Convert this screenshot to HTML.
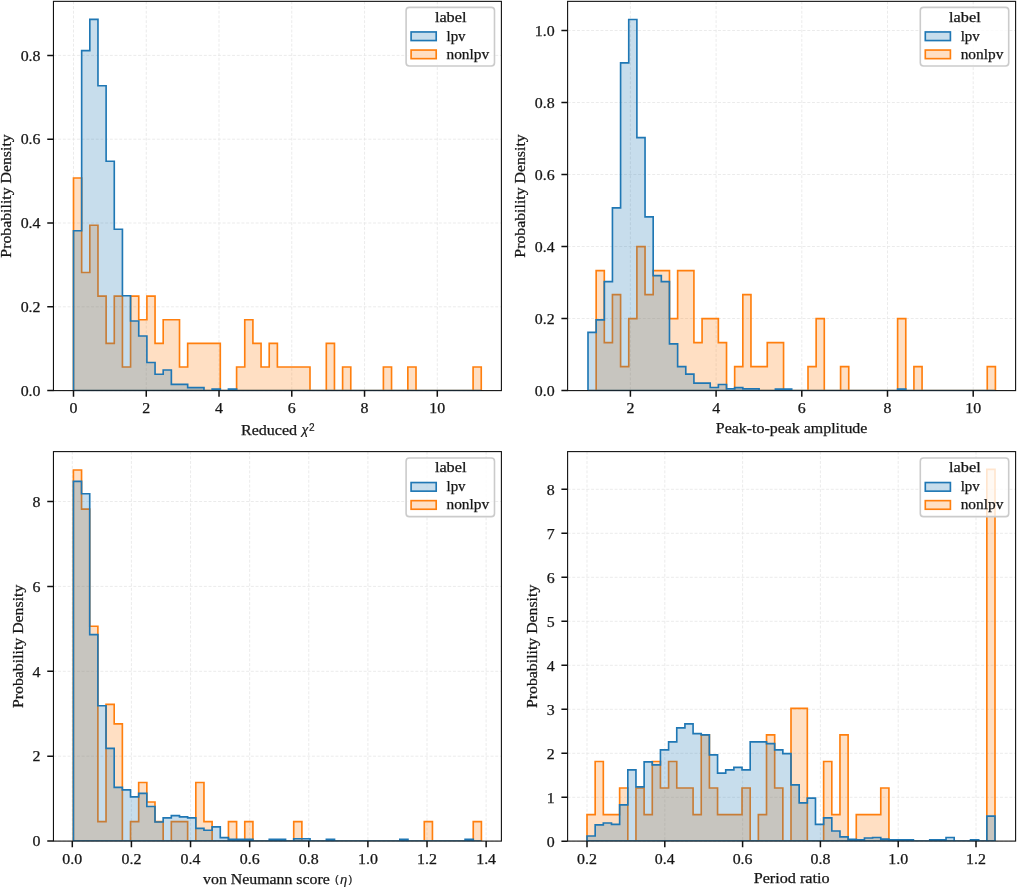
<!DOCTYPE html>
<html><head><meta charset="utf-8"><style>
html,body{margin:0;padding:0;background:#fff;}
svg{display:block;will-change:transform;}
.tk{font-family:"Liberation Serif", serif;font-size:13.7px;fill:#161616;stroke:#161616;stroke-width:0.25px;}
.lb{font-family:"Liberation Serif", serif;font-size:13.7px;fill:#161616;stroke:#161616;stroke-width:0.25px;}
</style></head><body>
<svg width="1017" height="887" viewBox="0 0 1017 887">
<rect width="1017" height="887" fill="#fff"/>
<clipPath id="c0"><rect x="53.45" y="1.35" width="447.95" height="389.25"/></clipPath>
<path d="M73.5 1.35V390.6 M146.26 1.35V390.6 M219.02 1.35V390.6 M291.78 1.35V390.6 M364.54 1.35V390.6 M437.3 1.35V390.6 M53.45 390.6H501.4 M53.45 306.8H501.4 M53.45 223H501.4 M53.45 139.2H501.4 M53.45 55.4H501.4" stroke="#e6e6e6" stroke-width="0.8" stroke-dasharray="2.95 1.75" fill="none"/>
<g clip-path="url(#c0)">
<path d="M73.5 390.6 L73.5 178.02 L81.66 178.02 L81.66 272.5 L89.81 272.5 L89.81 225.26 L97.97 225.26 L97.97 296.12 L106.12 296.12 L106.12 343.36 L114.28 343.36 L114.28 296.12 L122.43 296.12 L122.43 366.98 L130.58 366.98 L130.58 296.12 L138.74 296.12 L138.74 319.74 L146.89 319.74 L146.89 296.12 L155.05 296.12 L155.05 343.36 L163.2 343.36 L163.2 319.74 L171.36 319.74 L179.51 319.74 L179.51 366.98 L187.67 366.98 L187.67 343.36 L195.82 343.36 L203.98 343.36 L212.13 343.36 L220.29 343.36 L220.29 390.6 L228.44 390.6 L236.6 390.6 L236.6 366.98 L244.75 366.98 L244.75 319.74 L252.91 319.74 L252.91 343.36 L261.06 343.36 L261.06 366.98 L269.22 366.98 L269.22 343.36 L277.38 343.36 L277.38 366.98 L285.53 366.98 L293.68 366.98 L301.84 366.98 L310 366.98 L310 390.6 L318.15 390.6 L326.3 390.6 L326.3 343.36 L334.46 343.36 L334.46 390.6 L342.61 390.6 L342.61 366.98 L350.77 366.98 L350.77 390.6 L358.92 390.6 L367.08 390.6 L375.23 390.6 L383.39 390.6 L383.39 366.98 L391.54 366.98 L391.54 390.6 L399.7 390.6 L407.85 390.6 L407.85 366.98 L416.01 366.98 L416.01 390.6 L424.16 390.6 L432.32 390.6 L440.47 390.6 L448.63 390.6 L456.78 390.6 L464.94 390.6 L473.09 390.6 L473.09 366.98 L481.25 366.98 L481.25 390.6 Z" fill="#ff7f0e" fill-opacity="0.25" stroke="#ff7f0e" stroke-width="1.65" stroke-linejoin="miter"/>
<path d="M73.5 390.6 L73.5 230.75 L81.66 230.75 L81.66 50.6 L89.81 50.6 L89.81 19.4 L97.97 19.4 L97.97 85.7 L106.12 85.7 L106.12 161.2 L114.28 161.2 L114.28 229.25 L122.43 229.25 L122.43 295.75 L130.58 295.75 L130.58 321 L138.74 321 L138.74 336 L146.89 336 L146.89 362.5 L155.05 362.5 L155.05 374.25 L163.2 374.25 L163.2 370 L171.36 370 L171.36 384.4 L179.51 384.4 L187.67 384.4 L187.67 387.6 L195.82 387.6 L203.98 387.6 L203.98 390.6 L212.13 390.6 L212.13 389 L220.29 389 L220.29 390.6 L228.44 390.6 L228.44 389 L236.6 389 L236.6 390.6 L244.75 390.6 L252.91 390.6 L261.06 390.6 L269.22 390.6 L277.38 390.6 L285.53 390.6 L293.68 390.6 L301.84 390.6 L310 390.6 L318.15 390.6 L326.3 390.6 L334.46 390.6 L342.61 390.6 L350.77 390.6 L358.92 390.6 L367.08 390.6 L375.23 390.6 L383.39 390.6 L391.54 390.6 L399.7 390.6 L407.85 390.6 L416.01 390.6 L424.16 390.6 L432.32 390.6 L440.47 390.6 L448.63 390.6 L456.78 390.6 L464.94 390.6 L473.09 390.6 L481.25 390.6 Z" fill="#1f77b4" fill-opacity="0.25" stroke="#1f77b4" stroke-width="1.65" stroke-linejoin="miter"/>
</g>
<rect x="53.45" y="1.35" width="447.95" height="389.25" fill="none" stroke="#111" stroke-width="1.1"/>
<path d="M73.5 390.6H481.25" stroke="#1f77b4" stroke-width="1.1" stroke-opacity="0.16" fill="none"/>
<path d="M73.5 390.6V396.8 M146.26 390.6V396.8 M219.02 390.6V396.8 M291.78 390.6V396.8 M364.54 390.6V396.8 M437.3 390.6V396.8 M53.45 390.6H47.25 M53.45 306.8H47.25 M53.45 223H47.25 M53.45 139.2H47.25 M53.45 55.4H47.25" stroke="#111" stroke-width="1.5" fill="none"/>
<text x="73.5" y="413.2" text-anchor="middle" class="tk" textLength="7.95" lengthAdjust="spacingAndGlyphs">0</text>
<text x="146.26" y="413.2" text-anchor="middle" class="tk" textLength="7.95" lengthAdjust="spacingAndGlyphs">2</text>
<text x="219.02" y="413.2" text-anchor="middle" class="tk" textLength="7.95" lengthAdjust="spacingAndGlyphs">4</text>
<text x="291.78" y="413.2" text-anchor="middle" class="tk" textLength="7.95" lengthAdjust="spacingAndGlyphs">6</text>
<text x="364.54" y="413.2" text-anchor="middle" class="tk" textLength="7.95" lengthAdjust="spacingAndGlyphs">8</text>
<text x="437.3" y="413.2" text-anchor="middle" class="tk" textLength="15.91" lengthAdjust="spacingAndGlyphs">10</text>
<text x="40.55" y="395.8" text-anchor="end" class="tk" textLength="19.88" lengthAdjust="spacingAndGlyphs">0.0</text>
<text x="40.55" y="312" text-anchor="end" class="tk" textLength="19.88" lengthAdjust="spacingAndGlyphs">0.2</text>
<text x="40.55" y="228.2" text-anchor="end" class="tk" textLength="19.88" lengthAdjust="spacingAndGlyphs">0.4</text>
<text x="40.55" y="144.4" text-anchor="end" class="tk" textLength="19.88" lengthAdjust="spacingAndGlyphs">0.6</text>
<text x="40.55" y="60.6" text-anchor="end" class="tk" textLength="19.88" lengthAdjust="spacingAndGlyphs">0.8</text>
<text x="10.55" y="195.98" text-anchor="middle" class="lb" textLength="123.33" lengthAdjust="spacingAndGlyphs" transform="rotate(-90 10.55 195.98)">Probability Density</text>
<text x="241" y="434.8" class="lb" textLength="56.15" lengthAdjust="spacingAndGlyphs">Reduced</text>
<text x="301.4" y="434.4" style="font-family:'Liberation Sans',sans-serif;font-style:italic;font-size:12.6px;fill:#161616;stroke:#161616;stroke-width:0.2px">χ</text>
<text x="308.9" y="430.5" style="font-family:'Liberation Sans',sans-serif;font-size:10.1px;fill:#161616;stroke:#161616;stroke-width:0.15px">2</text>
<rect x="406.1" y="7.4" width="88.4" height="58.6" rx="3.2" fill="#fff" fill-opacity="0.8" stroke="#cbcbcb" stroke-width="1.6"/>
<text x="450.7" y="21.7" text-anchor="middle" class="tk" textLength="31.59" lengthAdjust="spacingAndGlyphs">label</text>
<rect x="411.1" y="31.95" width="25.1" height="8.6" fill="#1f77b4" fill-opacity="0.25" stroke="#1f77b4" stroke-width="1.65"/>
<text x="446.5" y="40.6" class="tk" textLength="19.06" lengthAdjust="spacingAndGlyphs">lpv</text>
<rect x="411.1" y="50.05" width="25.1" height="8.6" fill="#ff7f0e" fill-opacity="0.25" stroke="#ff7f0e" stroke-width="1.65"/>
<text x="446.5" y="58.7" class="tk" textLength="42.69" lengthAdjust="spacingAndGlyphs">nonlpv</text>
<clipPath id="c1"><rect x="567.6" y="1.35" width="448" height="389.25"/></clipPath>
<path d="M630.4 1.35V390.6 M716.1 1.35V390.6 M801.8 1.35V390.6 M887.5 1.35V390.6 M973.2 1.35V390.6 M567.6 390.5H1015.6 M567.6 318.5H1015.6 M567.6 246.5H1015.6 M567.6 174.5H1015.6 M567.6 102.5H1015.6 M567.6 30.5H1015.6" stroke="#e6e6e6" stroke-width="0.8" stroke-dasharray="2.95 1.75" fill="none"/>
<g clip-path="url(#c1)">
<path d="M588 390.6 L596.15 390.6 L596.15 270.6 L604.3 270.6 L604.3 342.6 L612.44 342.6 L612.44 294.6 L620.59 294.6 L620.59 366.6 L628.74 366.6 L628.74 318.6 L636.89 318.6 L636.89 246.6 L645.04 246.6 L645.04 294.6 L653.18 294.6 L653.18 270.6 L661.33 270.6 L669.48 270.6 L669.48 318.6 L677.63 318.6 L677.63 270.6 L685.78 270.6 L693.92 270.6 L693.92 342.6 L702.07 342.6 L702.07 318.6 L710.22 318.6 L718.37 318.6 L718.37 342.6 L726.52 342.6 L726.52 390.6 L734.66 390.6 L734.66 366.6 L742.81 366.6 L742.81 294.6 L750.96 294.6 L750.96 366.6 L759.11 366.6 L767.26 366.6 L767.26 342.6 L775.4 342.6 L783.55 342.6 L783.55 390.6 L791.7 390.6 L799.85 390.6 L808 390.6 L808 366.6 L816.14 366.6 L816.14 318.6 L824.29 318.6 L824.29 390.6 L832.44 390.6 L840.59 390.6 L840.59 366.6 L848.74 366.6 L848.74 390.6 L856.88 390.6 L865.03 390.6 L873.18 390.6 L881.33 390.6 L889.48 390.6 L897.62 390.6 L897.62 318.6 L905.77 318.6 L905.77 390.6 L913.92 390.6 L913.92 366.6 L922.07 366.6 L922.07 390.6 L930.22 390.6 L938.36 390.6 L946.51 390.6 L954.66 390.6 L962.81 390.6 L970.96 390.6 L979.1 390.6 L987.25 390.6 L987.25 366.6 L995.4 366.6 L995.4 390.6 Z" fill="#ff7f0e" fill-opacity="0.25" stroke="#ff7f0e" stroke-width="1.65" stroke-linejoin="miter"/>
<path d="M588 390.6 L588 332.3 L596.15 332.3 L596.15 319.9 L604.3 319.9 L604.3 281.6 L612.44 281.6 L612.44 207.9 L620.59 207.9 L620.59 62.9 L628.74 62.9 L628.74 19.5 L636.89 19.5 L636.89 137.6 L645.04 137.6 L645.04 216.8 L653.18 216.8 L653.18 275.6 L661.33 275.6 L661.33 281.6 L669.48 281.6 L669.48 343.9 L677.63 343.9 L677.63 366.6 L685.78 366.6 L685.78 374.1 L693.92 374.1 L693.92 383.1 L702.07 383.1 L710.22 383.1 L710.22 387.5 L718.37 387.5 L718.37 384.5 L726.52 384.5 L726.52 388.7 L734.66 388.7 L734.66 387.6 L742.81 387.6 L742.81 388.7 L750.96 388.7 L759.11 388.7 L759.11 390.6 L767.26 390.6 L775.4 390.6 L775.4 389 L783.55 389 L791.7 389 L791.7 390.6 L799.85 390.6 L808 390.6 L816.14 390.6 L824.29 390.6 L832.44 390.6 L840.59 390.6 L848.74 390.6 L856.88 390.6 L865.03 390.6 L873.18 390.6 L881.33 390.6 L889.48 390.6 L897.62 390.6 L897.62 389 L905.77 389 L905.77 390.6 L913.92 390.6 L922.07 390.6 L930.22 390.6 L938.36 390.6 L946.51 390.6 L954.66 390.6 L962.81 390.6 L970.96 390.6 L979.1 390.6 L987.25 390.6 L995.4 390.6 Z" fill="#1f77b4" fill-opacity="0.25" stroke="#1f77b4" stroke-width="1.65" stroke-linejoin="miter"/>
</g>
<rect x="567.6" y="1.35" width="448" height="389.25" fill="none" stroke="#111" stroke-width="1.1"/>
<path d="M588 390.6H995.4" stroke="#1f77b4" stroke-width="1.1" stroke-opacity="0.16" fill="none"/>
<path d="M630.4 390.6V396.8 M716.1 390.6V396.8 M801.8 390.6V396.8 M887.5 390.6V396.8 M973.2 390.6V396.8 M567.6 390.5H561.4 M567.6 318.5H561.4 M567.6 246.5H561.4 M567.6 174.5H561.4 M567.6 102.5H561.4 M567.6 30.5H561.4" stroke="#111" stroke-width="1.5" fill="none"/>
<text x="630.4" y="413.2" text-anchor="middle" class="tk" textLength="7.95" lengthAdjust="spacingAndGlyphs">2</text>
<text x="716.1" y="413.2" text-anchor="middle" class="tk" textLength="7.95" lengthAdjust="spacingAndGlyphs">4</text>
<text x="801.8" y="413.2" text-anchor="middle" class="tk" textLength="7.95" lengthAdjust="spacingAndGlyphs">6</text>
<text x="887.5" y="413.2" text-anchor="middle" class="tk" textLength="7.95" lengthAdjust="spacingAndGlyphs">8</text>
<text x="973.2" y="413.2" text-anchor="middle" class="tk" textLength="15.91" lengthAdjust="spacingAndGlyphs">10</text>
<text x="554.7" y="395.7" text-anchor="end" class="tk" textLength="19.88" lengthAdjust="spacingAndGlyphs">0.0</text>
<text x="554.7" y="323.7" text-anchor="end" class="tk" textLength="19.88" lengthAdjust="spacingAndGlyphs">0.2</text>
<text x="554.7" y="251.7" text-anchor="end" class="tk" textLength="19.88" lengthAdjust="spacingAndGlyphs">0.4</text>
<text x="554.7" y="179.7" text-anchor="end" class="tk" textLength="19.88" lengthAdjust="spacingAndGlyphs">0.6</text>
<text x="554.7" y="107.7" text-anchor="end" class="tk" textLength="19.88" lengthAdjust="spacingAndGlyphs">0.8</text>
<text x="554.7" y="35.7" text-anchor="end" class="tk" textLength="19.88" lengthAdjust="spacingAndGlyphs">1.0</text>
<text x="524.7" y="195.98" text-anchor="middle" class="lb" textLength="123.33" lengthAdjust="spacingAndGlyphs" transform="rotate(-90 524.7 195.98)">Probability Density</text>
<text x="791.6" y="432.6" text-anchor="middle" class="lb" textLength="151.61" lengthAdjust="spacingAndGlyphs">Peak-to-peak amplitude</text>
<rect x="920.3" y="7.4" width="88.4" height="58.6" rx="3.2" fill="#fff" fill-opacity="0.8" stroke="#cbcbcb" stroke-width="1.6"/>
<text x="964.9" y="21.7" text-anchor="middle" class="tk" textLength="31.59" lengthAdjust="spacingAndGlyphs">label</text>
<rect x="925.3" y="31.95" width="25.1" height="8.6" fill="#1f77b4" fill-opacity="0.25" stroke="#1f77b4" stroke-width="1.65"/>
<text x="960.7" y="40.6" class="tk" textLength="19.06" lengthAdjust="spacingAndGlyphs">lpv</text>
<rect x="925.3" y="50.05" width="25.1" height="8.6" fill="#ff7f0e" fill-opacity="0.25" stroke="#ff7f0e" stroke-width="1.65"/>
<text x="960.7" y="58.7" class="tk" textLength="42.69" lengthAdjust="spacingAndGlyphs">nonlpv</text>
<clipPath id="c2"><rect x="53.45" y="451.6" width="447.95" height="389.5"/></clipPath>
<path d="M72.3 451.6V841.1 M131.42 451.6V841.1 M190.54 451.6V841.1 M249.66 451.6V841.1 M308.78 451.6V841.1 M367.9 451.6V841.1 M427.02 451.6V841.1 M486.14 451.6V841.1 M53.45 841.1H501.4 M53.45 756.2H501.4 M53.45 671.3H501.4 M53.45 586.4H501.4 M53.45 501.5H501.4" stroke="#e6e6e6" stroke-width="0.8" stroke-dasharray="2.95 1.75" fill="none"/>
<g clip-path="url(#c2)">
<path d="M73.4 841.1 L73.4 470.03 L81.56 470.03 L81.56 509.09 L89.72 509.09 L89.72 626.27 L97.88 626.27 L97.88 821.57 L106.04 821.57 L106.04 704.39 L114.2 704.39 L114.2 723.92 L122.36 723.92 L122.36 841.1 L130.52 841.1 L130.52 821.57 L138.68 821.57 L138.68 782.51 L146.84 782.51 L146.84 802.04 L155 802.04 L155 821.57 L163.16 821.57 L163.16 841.1 L171.32 841.1 L171.32 821.57 L179.48 821.57 L187.64 821.57 L187.64 841.1 L195.8 841.1 L195.8 782.51 L203.96 782.51 L203.96 821.57 L212.12 821.57 L212.12 841.1 L220.28 841.1 L228.44 841.1 L228.44 821.57 L236.6 821.57 L236.6 841.1 L244.76 841.1 L244.76 821.57 L252.92 821.57 L252.92 841.1 L261.08 841.1 L269.24 841.1 L277.4 841.1 L285.56 841.1 L293.72 841.1 L293.72 821.57 L301.88 821.57 L301.88 841.1 L310.04 841.1 L318.2 841.1 L326.36 841.1 L334.52 841.1 L342.68 841.1 L350.84 841.1 L359 841.1 L367.16 841.1 L375.32 841.1 L383.48 841.1 L391.64 841.1 L399.8 841.1 L407.96 841.1 L416.12 841.1 L424.28 841.1 L424.28 821.57 L432.44 821.57 L432.44 841.1 L440.6 841.1 L448.76 841.1 L456.92 841.1 L465.08 841.1 L473.24 841.1 L473.24 821.57 L481.4 821.57 L481.4 841.1 Z" fill="#ff7f0e" fill-opacity="0.25" stroke="#ff7f0e" stroke-width="1.65" stroke-linejoin="miter"/>
<path d="M73.4 841.1 L73.4 481.4 L81.56 481.4 L81.56 493.7 L89.72 493.7 L89.72 634.6 L97.88 634.6 L97.88 705.7 L106.04 705.7 L106.04 748.4 L114.2 748.4 L114.2 787.3 L122.36 787.3 L122.36 789.8 L130.52 789.8 L130.52 796.8 L138.68 796.8 L138.68 793.4 L146.84 793.4 L146.84 806.5 L155 806.5 L155 822 L163.16 822 L163.16 817.9 L171.32 817.9 L171.32 815.6 L179.48 815.6 L179.48 816.9 L187.64 816.9 L187.64 817.9 L195.8 817.9 L195.8 828.3 L203.96 828.3 L203.96 830.2 L212.12 830.2 L212.12 826.8 L220.28 826.8 L220.28 837.6 L228.44 837.6 L228.44 839.4 L236.6 839.4 L244.76 839.4 L252.92 839.4 L252.92 841.1 L261.08 841.1 L269.24 841.1 L269.24 839.4 L277.4 839.4 L285.56 839.4 L285.56 841.1 L293.72 841.1 L293.72 838.7 L301.88 838.7 L310.04 838.7 L310.04 841.1 L318.2 841.1 L326.36 841.1 L326.36 839.4 L334.52 839.4 L334.52 841.1 L342.68 841.1 L350.84 841.1 L359 841.1 L367.16 841.1 L375.32 841.1 L383.48 841.1 L391.64 841.1 L399.8 841.1 L399.8 839.4 L407.96 839.4 L407.96 841.1 L416.12 841.1 L424.28 841.1 L432.44 841.1 L440.6 841.1 L448.76 841.1 L456.92 841.1 L465.08 841.1 L465.08 839.4 L473.24 839.4 L473.24 841.1 L481.4 841.1 Z" fill="#1f77b4" fill-opacity="0.25" stroke="#1f77b4" stroke-width="1.65" stroke-linejoin="miter"/>
</g>
<rect x="53.45" y="451.6" width="447.95" height="389.5" fill="none" stroke="#111" stroke-width="1.1"/>
<path d="M73.4 841.1H481.4" stroke="#1f77b4" stroke-width="1.1" stroke-opacity="0.16" fill="none"/>
<path d="M72.3 841.1V847.3 M131.42 841.1V847.3 M190.54 841.1V847.3 M249.66 841.1V847.3 M308.78 841.1V847.3 M367.9 841.1V847.3 M427.02 841.1V847.3 M486.14 841.1V847.3 M53.45 841.1H47.25 M53.45 756.2H47.25 M53.45 671.3H47.25 M53.45 586.4H47.25 M53.45 501.5H47.25" stroke="#111" stroke-width="1.5" fill="none"/>
<text x="72.3" y="864.3" text-anchor="middle" class="tk" textLength="19.88" lengthAdjust="spacingAndGlyphs">0.0</text>
<text x="131.42" y="864.3" text-anchor="middle" class="tk" textLength="19.88" lengthAdjust="spacingAndGlyphs">0.2</text>
<text x="190.54" y="864.3" text-anchor="middle" class="tk" textLength="19.88" lengthAdjust="spacingAndGlyphs">0.4</text>
<text x="249.66" y="864.3" text-anchor="middle" class="tk" textLength="19.88" lengthAdjust="spacingAndGlyphs">0.6</text>
<text x="308.78" y="864.3" text-anchor="middle" class="tk" textLength="19.88" lengthAdjust="spacingAndGlyphs">0.8</text>
<text x="367.9" y="864.3" text-anchor="middle" class="tk" textLength="19.88" lengthAdjust="spacingAndGlyphs">1.0</text>
<text x="427.02" y="864.3" text-anchor="middle" class="tk" textLength="19.88" lengthAdjust="spacingAndGlyphs">1.2</text>
<text x="486.14" y="864.3" text-anchor="middle" class="tk" textLength="19.88" lengthAdjust="spacingAndGlyphs">1.4</text>
<text x="40.55" y="846.3" text-anchor="end" class="tk" textLength="7.95" lengthAdjust="spacingAndGlyphs">0</text>
<text x="40.55" y="761.4" text-anchor="end" class="tk" textLength="7.95" lengthAdjust="spacingAndGlyphs">2</text>
<text x="40.55" y="676.5" text-anchor="end" class="tk" textLength="7.95" lengthAdjust="spacingAndGlyphs">4</text>
<text x="40.55" y="591.6" text-anchor="end" class="tk" textLength="7.95" lengthAdjust="spacingAndGlyphs">6</text>
<text x="40.55" y="506.7" text-anchor="end" class="tk" textLength="7.95" lengthAdjust="spacingAndGlyphs">8</text>
<text x="22.85" y="646.35" text-anchor="middle" class="lb" textLength="123.33" lengthAdjust="spacingAndGlyphs" transform="rotate(-90 22.85 646.35)">Probability Density</text>
<text x="203.1" y="883.9" class="lb" textLength="126.69" lengthAdjust="spacingAndGlyphs">von Neumann score</text>
<text x="335.0" y="882.7" style="font-family:'Liberation Sans',sans-serif;font-size:11.2px;fill:#161616;stroke:#161616;stroke-width:0.2px">(</text>
<text x="340.2" y="883.9" style="font-family:'Liberation Sans',sans-serif;font-size:11.2px;fill:#161616;stroke:#161616;stroke-width:0.2px;font-style:italic;font-size:12.4px">η</text>
<text x="348.6" y="882.7" style="font-family:'Liberation Sans',sans-serif;font-size:11.2px;fill:#161616;stroke:#161616;stroke-width:0.2px">)</text>
<rect x="406.1" y="458" width="88.4" height="58.6" rx="3.2" fill="#fff" fill-opacity="0.8" stroke="#cbcbcb" stroke-width="1.6"/>
<text x="450.7" y="472.3" text-anchor="middle" class="tk" textLength="31.59" lengthAdjust="spacingAndGlyphs">label</text>
<rect x="411.1" y="482.55" width="25.1" height="8.6" fill="#1f77b4" fill-opacity="0.25" stroke="#1f77b4" stroke-width="1.65"/>
<text x="446.5" y="491.2" class="tk" textLength="19.06" lengthAdjust="spacingAndGlyphs">lpv</text>
<rect x="411.1" y="500.65" width="25.1" height="8.6" fill="#ff7f0e" fill-opacity="0.25" stroke="#ff7f0e" stroke-width="1.65"/>
<text x="446.5" y="509.3" class="tk" textLength="42.69" lengthAdjust="spacingAndGlyphs">nonlpv</text>
<clipPath id="c3"><rect x="567.6" y="451.6" width="448" height="389.5"/></clipPath>
<path d="M587 451.6V841.1 M664.8 451.6V841.1 M742.6 451.6V841.1 M820.4 451.6V841.1 M898.2 451.6V841.1 M976 451.6V841.1 M567.6 841.3H1015.6 M567.6 797.3H1015.6 M567.6 753.3H1015.6 M567.6 709.3H1015.6 M567.6 665.3H1015.6 M567.6 621.3H1015.6 M567.6 577.3H1015.6 M567.6 533.3H1015.6 M567.6 489.3H1015.6" stroke="#e6e6e6" stroke-width="0.8" stroke-dasharray="2.95 1.75" fill="none"/>
<g clip-path="url(#c3)">
<path d="M587 841.1 L587 814.55 L595.16 814.55 L595.16 761.45 L603.32 761.45 L603.32 814.55 L611.48 814.55 L619.64 814.55 L619.64 788 L627.8 788 L627.8 841.1 L635.96 841.1 L635.96 788 L644.12 788 L644.12 814.55 L652.28 814.55 L652.28 761.45 L660.44 761.45 L660.44 788 L668.6 788 L668.6 761.45 L676.76 761.45 L676.76 788 L684.92 788 L693.08 788 L693.08 814.55 L701.24 814.55 L701.24 734.9 L709.4 734.9 L709.4 788 L717.56 788 L717.56 814.55 L725.72 814.55 L733.88 814.55 L742.04 814.55 L742.04 788 L750.2 788 L750.2 841.1 L758.36 841.1 L758.36 814.55 L766.52 814.55 L766.52 734.9 L774.68 734.9 L774.68 788 L782.84 788 L782.84 841.1 L791 841.1 L791 708.35 L799.16 708.35 L807.32 708.35 L807.32 841.1 L815.48 841.1 L823.64 841.1 L823.64 761.45 L831.8 761.45 L831.8 814.55 L839.96 814.55 L839.96 734.9 L848.12 734.9 L848.12 841.1 L856.28 841.1 L856.28 814.55 L864.44 814.55 L872.6 814.55 L880.76 814.55 L880.76 788 L888.92 788 L888.92 841.1 L897.08 841.1 L905.24 841.1 L913.4 841.1 L921.56 841.1 L929.72 841.1 L937.88 841.1 L946.04 841.1 L954.2 841.1 L962.36 841.1 L970.52 841.1 L978.68 841.1 L986.84 841.1 L986.84 469.4 L995 469.4 L995 841.1 Z" fill="#ff7f0e" fill-opacity="0.25" stroke="#ff7f0e" stroke-width="1.65" stroke-linejoin="miter"/>
<path d="M587 841.1 L587 836 L595.16 836 L595.16 824.8 L603.32 824.8 L603.32 823 L611.48 823 L611.48 824.3 L619.64 824.3 L619.64 804.8 L627.8 804.8 L627.8 769.9 L635.96 769.9 L635.96 786.8 L644.12 786.8 L644.12 761.9 L652.28 761.9 L652.28 764.9 L660.44 764.9 L660.44 749.9 L668.6 749.9 L668.6 741.9 L676.76 741.9 L676.76 727.9 L684.92 727.9 L684.92 723.9 L693.08 723.9 L693.08 733.6 L701.24 733.6 L701.24 734.9 L709.4 734.9 L709.4 754.9 L717.56 754.9 L717.56 773.1 L725.72 773.1 L725.72 769.9 L733.88 769.9 L733.88 767.4 L742.04 767.4 L742.04 769.9 L750.2 769.9 L750.2 741.9 L758.36 741.9 L766.52 741.9 L766.52 743.6 L774.68 743.6 L774.68 749.9 L782.84 749.9 L782.84 753.6 L791 753.6 L791 784.8 L799.16 784.8 L799.16 802.8 L807.32 802.8 L807.32 798.1 L815.48 798.1 L815.48 824.3 L823.64 824.3 L823.64 817.8 L831.8 817.8 L831.8 831 L839.96 831 L839.96 836.8 L848.12 836.8 L848.12 839.3 L856.28 839.3 L856.28 839.8 L864.44 839.8 L864.44 838 L872.6 838 L872.6 837.5 L880.76 837.5 L880.76 839.1 L888.92 839.1 L888.92 839.7 L897.08 839.7 L905.24 839.7 L913.4 839.7 L913.4 841.1 L921.56 841.1 L929.72 841.1 L929.72 839.7 L937.88 839.7 L946.04 839.7 L946.04 837.5 L954.2 837.5 L954.2 841.1 L962.36 841.1 L970.52 841.1 L970.52 839.7 L978.68 839.7 L978.68 841.1 L986.84 841.1 L986.84 816.1 L995 816.1 L995 841.1 Z" fill="#1f77b4" fill-opacity="0.25" stroke="#1f77b4" stroke-width="1.65" stroke-linejoin="miter"/>
</g>
<rect x="567.6" y="451.6" width="448" height="389.5" fill="none" stroke="#111" stroke-width="1.1"/>
<path d="M587 841.1H995" stroke="#1f77b4" stroke-width="1.1" stroke-opacity="0.16" fill="none"/>
<path d="M587 841.1V847.3 M664.8 841.1V847.3 M742.6 841.1V847.3 M820.4 841.1V847.3 M898.2 841.1V847.3 M976 841.1V847.3 M567.6 841.3H561.4 M567.6 797.3H561.4 M567.6 753.3H561.4 M567.6 709.3H561.4 M567.6 665.3H561.4 M567.6 621.3H561.4 M567.6 577.3H561.4 M567.6 533.3H561.4 M567.6 489.3H561.4" stroke="#111" stroke-width="1.5" fill="none"/>
<text x="587" y="864.3" text-anchor="middle" class="tk" textLength="19.88" lengthAdjust="spacingAndGlyphs">0.2</text>
<text x="664.8" y="864.3" text-anchor="middle" class="tk" textLength="19.88" lengthAdjust="spacingAndGlyphs">0.4</text>
<text x="742.6" y="864.3" text-anchor="middle" class="tk" textLength="19.88" lengthAdjust="spacingAndGlyphs">0.6</text>
<text x="820.4" y="864.3" text-anchor="middle" class="tk" textLength="19.88" lengthAdjust="spacingAndGlyphs">0.8</text>
<text x="898.2" y="864.3" text-anchor="middle" class="tk" textLength="19.88" lengthAdjust="spacingAndGlyphs">1.0</text>
<text x="976" y="864.3" text-anchor="middle" class="tk" textLength="19.88" lengthAdjust="spacingAndGlyphs">1.2</text>
<text x="554.7" y="846.5" text-anchor="end" class="tk" textLength="7.95" lengthAdjust="spacingAndGlyphs">0</text>
<text x="554.7" y="802.5" text-anchor="end" class="tk" textLength="7.95" lengthAdjust="spacingAndGlyphs">1</text>
<text x="554.7" y="758.5" text-anchor="end" class="tk" textLength="7.95" lengthAdjust="spacingAndGlyphs">2</text>
<text x="554.7" y="714.5" text-anchor="end" class="tk" textLength="7.95" lengthAdjust="spacingAndGlyphs">3</text>
<text x="554.7" y="670.5" text-anchor="end" class="tk" textLength="7.95" lengthAdjust="spacingAndGlyphs">4</text>
<text x="554.7" y="626.5" text-anchor="end" class="tk" textLength="7.95" lengthAdjust="spacingAndGlyphs">5</text>
<text x="554.7" y="582.5" text-anchor="end" class="tk" textLength="7.95" lengthAdjust="spacingAndGlyphs">6</text>
<text x="554.7" y="538.5" text-anchor="end" class="tk" textLength="7.95" lengthAdjust="spacingAndGlyphs">7</text>
<text x="554.7" y="494.5" text-anchor="end" class="tk" textLength="7.95" lengthAdjust="spacingAndGlyphs">8</text>
<text x="537" y="646.35" text-anchor="middle" class="lb" textLength="123.33" lengthAdjust="spacingAndGlyphs" transform="rotate(-90 537 646.35)">Probability Density</text>
<text x="791.6" y="883.1" text-anchor="middle" class="lb" textLength="75.89" lengthAdjust="spacingAndGlyphs">Period ratio</text>
<rect x="920.3" y="458" width="88.4" height="58.6" rx="3.2" fill="#fff" fill-opacity="0.8" stroke="#cbcbcb" stroke-width="1.6"/>
<text x="964.9" y="472.3" text-anchor="middle" class="tk" textLength="31.59" lengthAdjust="spacingAndGlyphs">label</text>
<rect x="925.3" y="482.55" width="25.1" height="8.6" fill="#1f77b4" fill-opacity="0.25" stroke="#1f77b4" stroke-width="1.65"/>
<text x="960.7" y="491.2" class="tk" textLength="19.06" lengthAdjust="spacingAndGlyphs">lpv</text>
<rect x="925.3" y="500.65" width="25.1" height="8.6" fill="#ff7f0e" fill-opacity="0.25" stroke="#ff7f0e" stroke-width="1.65"/>
<text x="960.7" y="509.3" class="tk" textLength="42.69" lengthAdjust="spacingAndGlyphs">nonlpv</text>
</svg>
</body></html>
